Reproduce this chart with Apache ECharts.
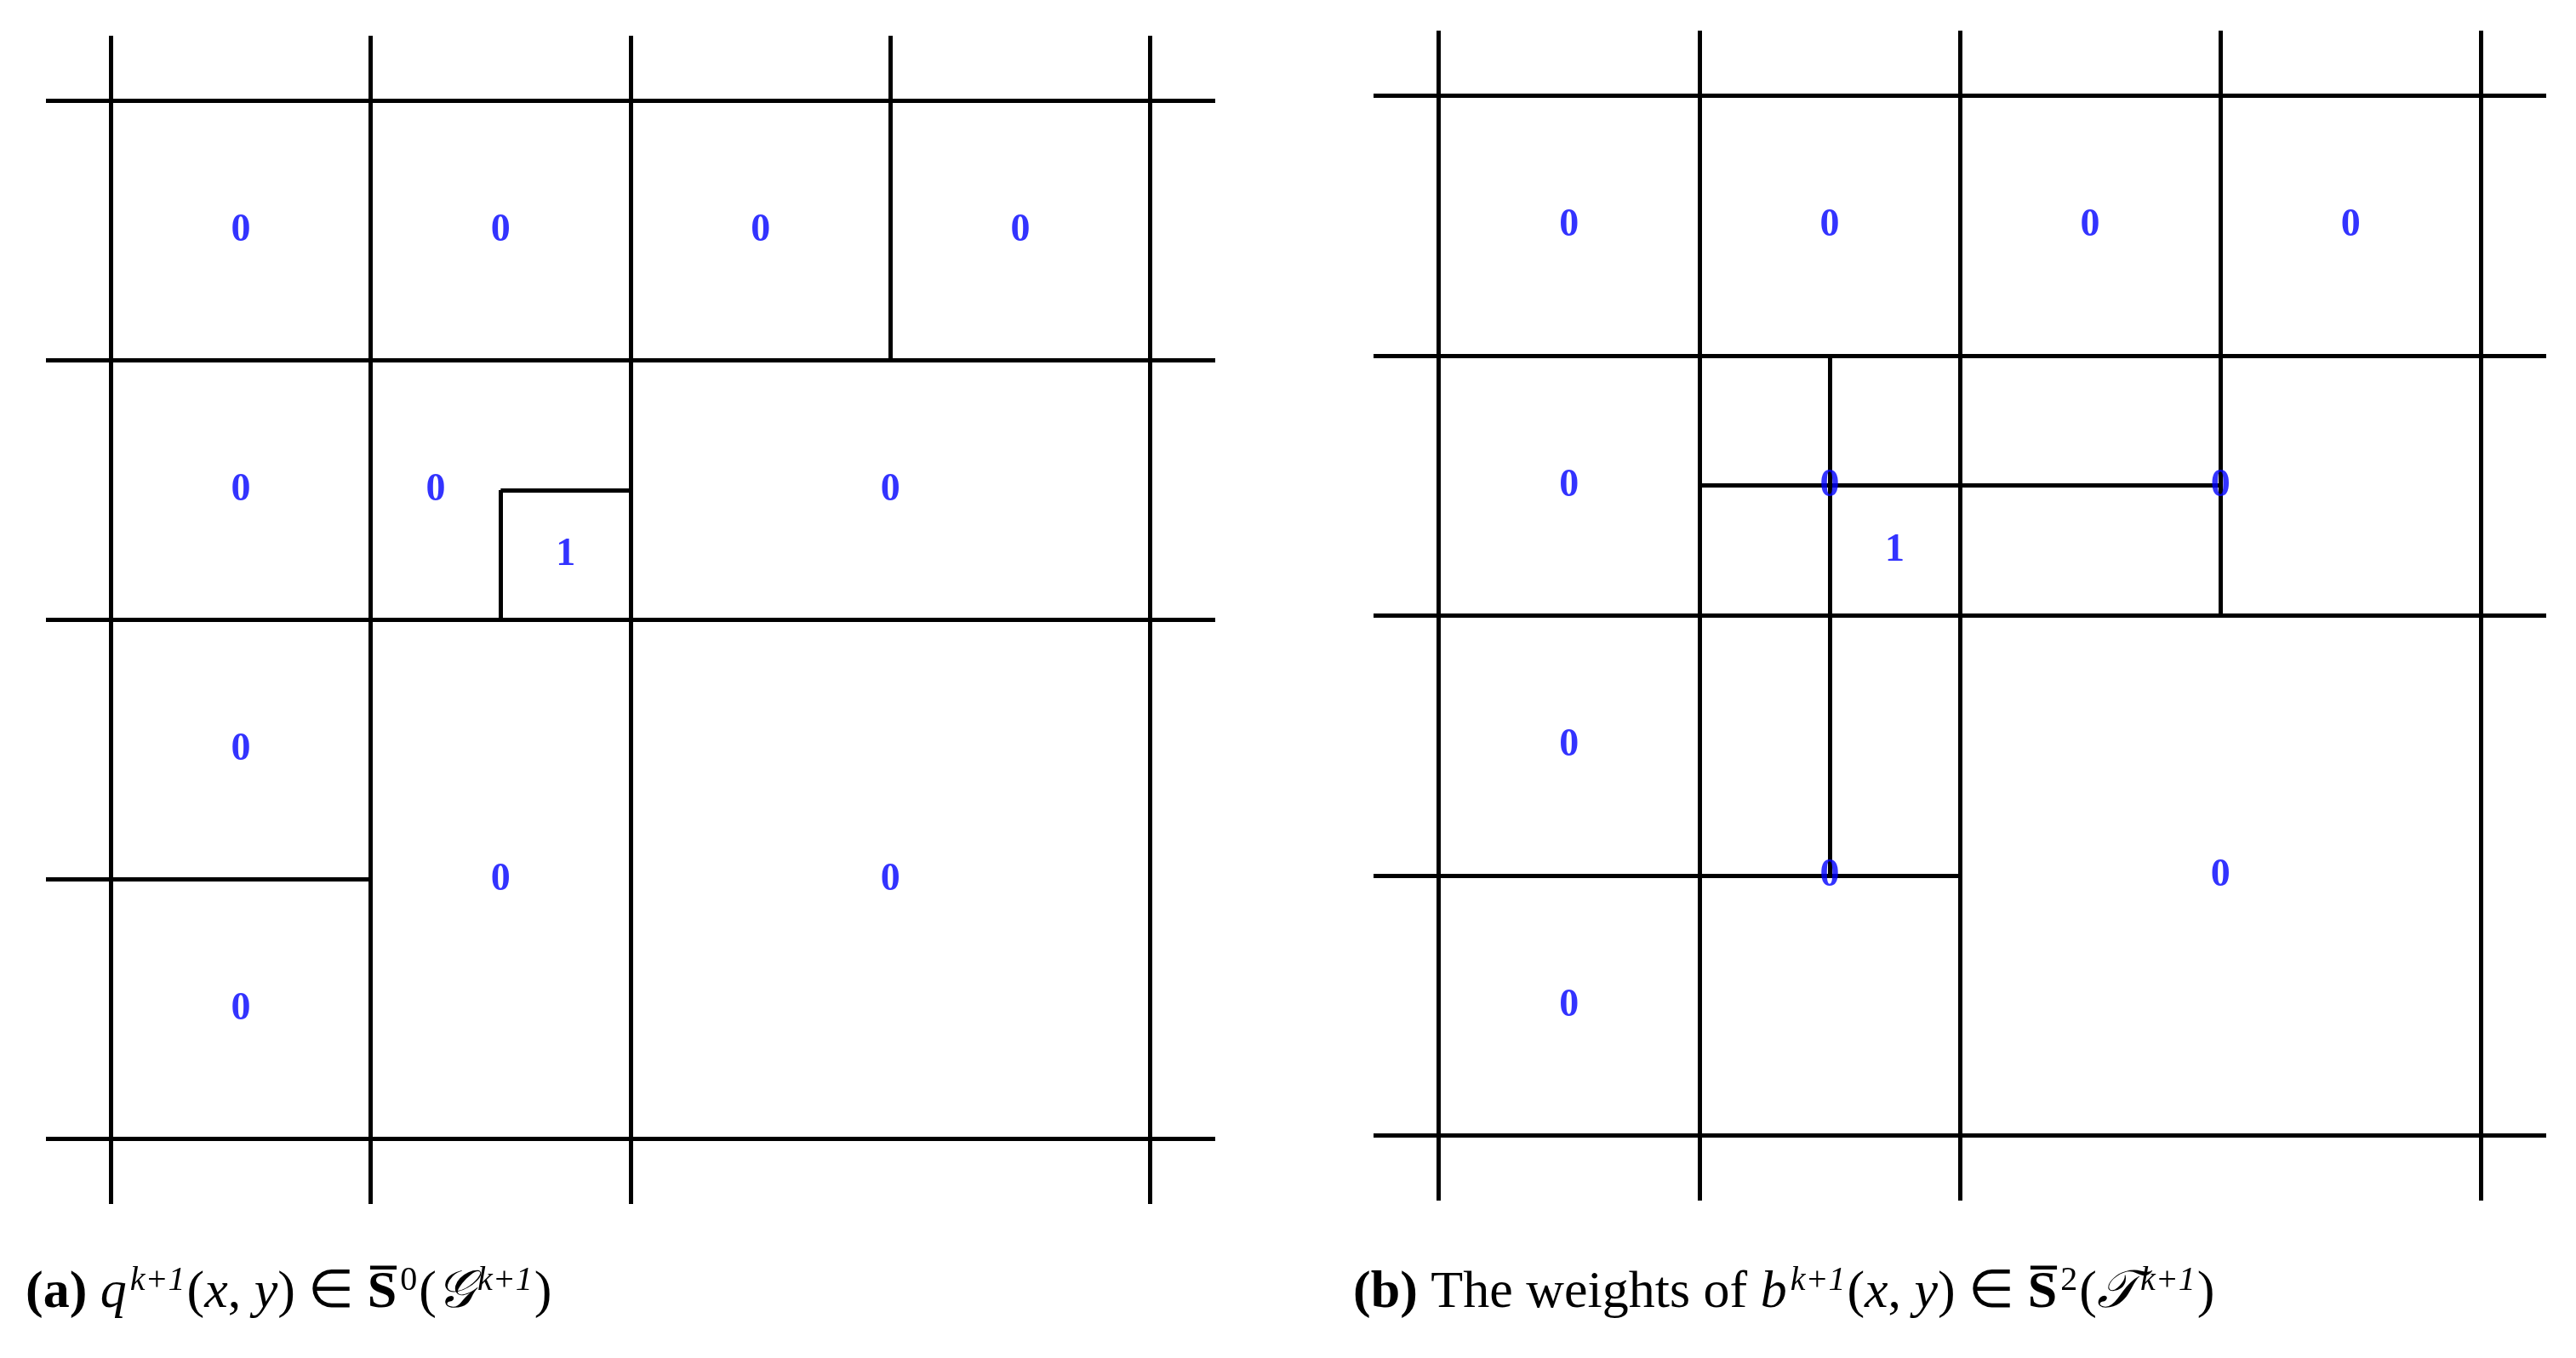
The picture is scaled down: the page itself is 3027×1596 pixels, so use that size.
<!DOCTYPE html>
<html><head><meta charset="utf-8">
<script src="https://cdn.jsdelivr.net/npm/echarts@6/dist/echarts.min.js"></script>
<style>html,body{margin:0;background:#fff}#c{width:3027px;height:1596px}</style>
</head><body><div id="c"></div>
<script>
// segments [x1,y1,x2,y2] in grid units (y downward)
const E = 0.25;
const segsA = [
  [0,-E,0,4+E],[1,-E,1,4+E],[2,-E,2,4+E],[4,-E,4,4+E],[3,-E,3,1],
  [-E,0,4+E,0],[-E,1,4+E,1],[-E,2,4+E,2],[-E,4,4+E,4],[-E,3,1,3],
  [1.5,1.5,2,1.5],[1.5,1.5,1.5,2]
];
const labelsA = [
  [0.5,0.5,'0'],[1.5,0.5,'0'],[2.5,0.5,'0'],[3.5,0.5,'0'],
  [0.5,1.5,'0'],[1.25,1.5,'0'],[3,1.5,'0'],[1.75,1.75,'1'],
  [0.5,2.5,'0'],[1.5,3,'0'],[3,3,'0'],[0.5,3.5,'0']
];
const segsB = [
  [0,-E,0,4+E],[1,-E,1,4+E],[2,-E,2,4+E],[4,-E,4,4+E],[3,-E,3,2],[1.5,1,1.5,3],
  [-E,0,4+E,0],[-E,1,4+E,1],[-E,2,4+E,2],[-E,4,4+E,4],[-E,3,2,3],[1,1.5,3,1.5]
];
const labelsB = [
  [0.5,0.5,'0'],[1.5,0.5,'0'],[2.5,0.5,'0'],[3.5,0.5,'0'],
  [0.5,1.5,'0'],[1.5,1.5,'0'],[3,1.5,'0'],[1.75,1.75,'1'],
  [0.5,2.5,'0'],[1.5,3,'0'],[3,3,'0'],[0.5,3.5,'0']
];
const grids=[{left:54,top:42,width:1374,height:1373},{left:1614,top:36,width:1378,height:1375}];
const xAxis=[],yAxis=[],series=[];
[segsA,segsB].forEach((segs,i)=>{
  xAxis.push({type:'value',gridIndex:i,min:-E,max:4+E,show:false});
  yAxis.push({type:'value',gridIndex:i,min:-E,max:4+E,inverse:true,show:false});
  series.push({type:'lines',coordinateSystem:'cartesian2d',xAxisIndex:i,yAxisIndex:i,
    lineStyle:{color:'#000',width:5,opacity:1},silent:true,
    data:segs.map(s=>({coords:[[s[0],s[1]],[s[2],s[3]]]}))});
});
[labelsA,labelsB].forEach((labs,i)=>{
  series.push({type:'scatter',xAxisIndex:i,yAxisIndex:i,symbolSize:0,silent:true,z:5,
    data:labs.map(l=>({value:[l[0],l[1]],label:{formatter:l[2]}})),
    label:{show:true,position:'inside',color:'#0000ff',fontWeight:'bold',fontSize:46,fontFamily:'Liberation Serif'}});
});
const F='Liberation Serif';
const rich={b:{fontWeight:'bold',fontSize:62,fontFamily:F,color:'#000'},
  n:{fontSize:62,fontFamily:F,fontStyle:'italic',color:'#000'},
  r:{fontSize:62,fontFamily:F,color:'#000'},
  s:{fontSize:40,fontFamily:F,fontStyle:'italic',color:'#000',verticalAlign:'top',padding:[0,2,30,4]},
  u:{fontSize:40,fontFamily:F,color:'#000',verticalAlign:'top',padding:[0,2,30,4]}};
const opt={animation:false,grid:grids,xAxis,yAxis,series,
  graphic:[
    {type:'text',left:30,top:1485,style:{rich,text:'{b|(a)}{r| }{n|q}{s|k+1}{r|(}{n|x}{r|, }{n|y}{r|) ∈ }{b|S̅}{u|0}{r|(}{n|𝒢}{s|k+1}{r|)}'}},
    {type:'text',left:1590,top:1485,style:{rich,text:'{b|(b)}{r| The weights of }{n|b}{s|k+1}{r|(}{n|x}{r|, }{n|y}{r|) ∈ }{b|S̅}{u|2}{r|(}{n|𝒯}{s|k+1}{r|)}'}}
  ]};
echarts.init(document.getElementById('c')).setOption(opt);
</script></body></html>
